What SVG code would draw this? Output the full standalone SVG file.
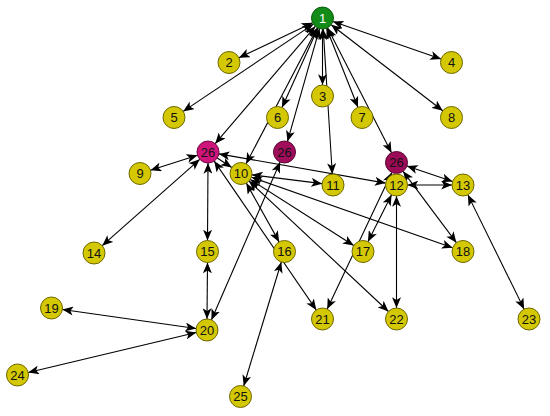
<svg xmlns="http://www.w3.org/2000/svg" width="550" height="416" viewBox="0 0 550 416">
<defs>
<marker id="ah" viewBox="0 0 12 10" refX="12" refY="5" markerWidth="11" markerHeight="9" markerUnits="userSpaceOnUse" orient="auto-start-reverse">
<path d="M0,0 L12,5 L0,10 L3,5 z" fill="#000"/>
</marker>
</defs>
<style>
.e line{stroke:#000;stroke-width:1.1;fill:none}
.d{marker-start:url(#ah);marker-end:url(#ah)}
.s{marker-end:url(#ah)}
circle{stroke-width:1}
.y circle{fill:#d4c804;stroke:#6e6700}
.g circle{fill:#138c17;stroke:#0b5a0d}
.ma circle{fill:#cf157c;stroke:#6a0a3e}
.mb circle{fill:#a00d5b;stroke:#5a0733}
.mc circle{fill:#9c0b57;stroke:#560631}
text{font-family:"Liberation Sans",Arial,sans-serif;font-size:13px;text-anchor:middle;fill:#111}
.g text{fill:#fff}
</style>
<g id="edges" class="e">
<line class="d" x1="312.57" y1="22.73" x2="238.93" y2="57.77"/>
<line class="d" x1="313.36" y1="24.12" x2="183.14" y2="111.38"/>
<line class="d" x1="315.35" y1="26.36" x2="215.15" y2="143.64"/>
<line class="d" x1="317.97" y1="28.02" x2="282.03" y2="107.48"/>
<line class="d" x1="317.39" y1="27.74" x2="246.11" y2="163.76"/>
<line class="d" x1="319.5" y1="28.58" x2="287.5" y2="141.42"/>
<line class="d" x1="322.5" y1="29" x2="322.5" y2="85"/>
<line class="d" x1="323.19" y1="28.98" x2="332.31" y2="174.02"/>
<line class="d" x1="326.56" y1="28.22" x2="357.94" y2="107.28"/>
<line class="d" x1="327.51" y1="27.79" x2="391.49" y2="152.71"/>
<line class="d" x1="332.9" y1="21.59" x2="441.1" y2="58.91"/>
<line class="d" x1="331.21" y1="24.72" x2="442.79" y2="110.78"/>
<line class="d" x1="150.49" y1="170.18" x2="197.51" y2="155.32"/>
<line class="d" x1="102.23" y1="245.71" x2="199.77" y2="159.29"/>
<line class="d" x1="208" y1="163" x2="207.5" y2="240.5"/>
<line class="d" x1="207.5" y1="262.5" x2="207" y2="319"/>
<line class="s" x1="217.22" y1="158" x2="231.78" y2="167.5"/>
<line class="d" x1="214.22" y1="161.07" x2="316.28" y2="309.93"/>
<line class="d" x1="218.84" y1="153.9" x2="385.66" y2="183.1"/>
<line class="d" x1="280.11" y1="162.09" x2="211.39" y2="319.91"/>
<line class="d" x1="246.36" y1="183.11" x2="279.14" y2="241.89"/>
<line class="d" x1="251.92" y1="174.86" x2="322.08" y2="183.64"/>
<line class="d" x1="250.27" y1="179.43" x2="353.73" y2="245.57"/>
<line class="d" x1="251.38" y1="177.15" x2="452.62" y2="247.85"/>
<line class="d" x1="249.03" y1="181.02" x2="388.47" y2="311.48"/>
<line class="d" x1="391.8" y1="172.44" x2="327.2" y2="309.06"/>
<line class="d" x1="391.55" y1="194.82" x2="367.95" y2="241.68"/>
<line class="d" x1="396.5" y1="196" x2="396.5" y2="308"/>
<line class="d" x1="407.5" y1="185" x2="452" y2="185"/>
<line class="d" x1="406.92" y1="166.03" x2="452.58" y2="181.47"/>
<line class="d" x1="403.08" y1="171.31" x2="456.42" y2="242.69"/>
<line class="d" x1="467.86" y1="194.87" x2="524.14" y2="309.13"/>
<line class="d" x1="281.31" y1="262.03" x2="243.69" y2="385.97"/>
<line class="d" x1="196.11" y1="328.46" x2="62.39" y2="309.54"/>
<line class="d" x1="196.3" y1="332.54" x2="28.2" y2="372.46"/>
</g>
<g id="n1" class="g"><circle cx="322.5" cy="18" r="11"/><text x="322.5" y="22.5">1</text></g>
<g id="n2" class="y"><circle cx="229" cy="62.5" r="11"/><text x="229" y="67">2</text></g>
<g id="n3" class="y"><circle cx="322.5" cy="96" r="11"/><text x="322.5" y="100.5">3</text></g>
<g id="n4" class="y"><circle cx="451.5" cy="62.5" r="11"/><text x="451.5" y="67">4</text></g>
<g id="n5" class="y"><circle cx="174" cy="117.5" r="11"/><text x="174" y="122">5</text></g>
<g id="n6" class="y"><circle cx="277.5" cy="117.5" r="11"/><text x="277.5" y="122">6</text></g>
<g id="n7" class="y"><circle cx="362" cy="117.5" r="11"/><text x="362" y="122">7</text></g>
<g id="n8" class="y"><circle cx="451.5" cy="117.5" r="11"/><text x="451.5" y="122">8</text></g>
<g id="n9" class="y"><circle cx="140" cy="173.5" r="11"/><text x="140" y="178">9</text></g>
<g id="n26a" class="ma"><circle cx="208" cy="152" r="11"/><text x="208" y="156.5">26</text></g>
<g id="n26b" class="mb"><circle cx="284.5" cy="152" r="11"/><text x="284.5" y="156.5">26</text></g>
<g id="n26c" class="mc"><circle cx="396.5" cy="162.5" r="11"/><text x="396.5" y="167">26</text></g>
<g id="n10" class="y"><circle cx="241" cy="173.5" r="11"/><text x="241" y="178">10</text></g>
<g id="n11" class="y"><circle cx="333" cy="185" r="11"/><text x="333" y="189.5">11</text></g>
<g id="n12" class="y"><circle cx="396.5" cy="185" r="11"/><text x="396.5" y="189.5">12</text></g>
<g id="n13" class="y"><circle cx="463" cy="185" r="11"/><text x="463" y="189.5">13</text></g>
<g id="n14" class="y"><circle cx="94" cy="253" r="11"/><text x="94" y="257.5">14</text></g>
<g id="n15" class="y"><circle cx="207.5" cy="251.5" r="11"/><text x="207.5" y="256">15</text></g>
<g id="n16" class="y"><circle cx="284.5" cy="251.5" r="11"/><text x="284.5" y="256">16</text></g>
<g id="n17" class="y"><circle cx="363" cy="251.5" r="11"/><text x="363" y="256">17</text></g>
<g id="n18" class="y"><circle cx="463" cy="251.5" r="11"/><text x="463" y="256">18</text></g>
<g id="n19" class="y"><circle cx="51.5" cy="308" r="11"/><text x="51.5" y="312.5">19</text></g>
<g id="n20" class="y"><circle cx="207" cy="330" r="11"/><text x="207" y="334.5">20</text></g>
<g id="n21" class="y"><circle cx="322.5" cy="319" r="11"/><text x="322.5" y="323.5">21</text></g>
<g id="n22" class="y"><circle cx="396.5" cy="319" r="11"/><text x="396.5" y="323.5">22</text></g>
<g id="n23" class="y"><circle cx="529" cy="319" r="11"/><text x="529" y="323.5">23</text></g>
<g id="n24" class="y"><circle cx="17.5" cy="375" r="11"/><text x="17.5" y="379.5">24</text></g>
<g id="n25" class="y"><circle cx="240.5" cy="396.5" r="11"/><text x="240.5" y="401">25</text></g>
</svg>
